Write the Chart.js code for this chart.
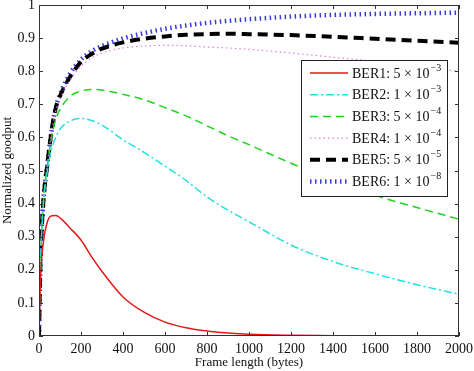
<!DOCTYPE html>
<html>
<head>
<meta charset="utf-8">
<script src="https://cdn.jsdelivr.net/npm/chart.js@4/dist/chart.umd.min.js"></script>
<style>
  html, body { margin: 0; padding: 0; background: #fff; }
  #wrap { width: 474px; height: 371px; }
</style>
</head>
<body>
<div id="wrap"><canvas id="goodputChart"></canvas></div>
<script>
// frame length (bytes), x positions of the read points
const frameLength = [0, 5, 10, 20, 40, 60, 80, 100, 150, 200, 250, 300, 400, 500, 600, 700, 800, 900, 1000, 1200, 1400, 1600, 1800, 2000];

// normalized goodput
const ber1 = [0, 0.13, 0.21, 0.28, 0.345, 0.363, 0.364, 0.357, 0.325, 0.29, 0.24, 0.195, 0.118, 0.072, 0.042, 0.025, 0.015, 0.009, 0.005, 0.002, 0.001, 0, 0, 0];
const ber2 = [0, 0.16, 0.27, 0.39, 0.50, 0.565, 0.60, 0.625, 0.65, 0.657, 0.651, 0.637, 0.593, 0.555, 0.513, 0.47, 0.42, 0.38, 0.345, 0.275, 0.225, 0.188, 0.155, 0.126];
const ber3 = [0, 0.17, 0.28, 0.40, 0.515, 0.60, 0.655, 0.685, 0.725, 0.74, 0.745, 0.743, 0.73, 0.714, 0.69, 0.665, 0.635, 0.605, 0.578, 0.522, 0.47, 0.425, 0.388, 0.353];
const ber4 = [0, 0.17, 0.28, 0.40, 0.52, 0.615, 0.68, 0.715, 0.775, 0.815, 0.84, 0.855, 0.87, 0.876, 0.878, 0.877, 0.873, 0.87, 0.866, 0.855, 0.842, 0.83, 0.815, 0.80];
const ber5 = [0, 0.17, 0.28, 0.40, 0.52, 0.62, 0.69, 0.725, 0.785, 0.828, 0.852, 0.868, 0.887, 0.898, 0.905, 0.91, 0.912, 0.913, 0.912, 0.909, 0.904, 0.898, 0.892, 0.886];
const ber6 = [0, 0.17, 0.28, 0.40, 0.52, 0.62, 0.69, 0.73, 0.795, 0.835, 0.86, 0.876, 0.899, 0.915, 0.928, 0.938, 0.946, 0.952, 0.957, 0.965, 0.97, 0.973, 0.975, 0.977];

// legend texts: base and exponent
const seriesNames = ['BER1: 5 × 10', 'BER2: 1 × 10', 'BER3: 5 × 10', 'BER4: 1 × 10', 'BER5: 5 × 10', 'BER6: 1 × 10'];
const seriesExps = ['−3', '−3', '−4', '−4', '−5', '−8'];

const xTicks = [0, 200, 400, 600, 800, 1000, 1200, 1400, 1600, 1800, 2000];
const yTicks = [0, 0.1, 0.2, 0.3, 0.4, 0.5, 0.6, 0.7, 0.8, 0.9, 1];

const serif = '"Liberation Serif", "Times New Roman", serif';

function pts(ys) {
    return frameLength.map((x, i) => ({ x: x, y: ys[i] }));
}

const styles = [
    { color: '#e41a1a', width: 1.5, dash: [] },
    { color: '#22e0e0', width: 1.5, dash: [8, 3, 2, 3] },
    { color: '#1fd21f', width: 1.5, dash: [8, 5] },
    { color: '#e27ee2', width: 1.2, dash: [1.5, 3] },
    { color: '#000000', width: 4, dash: [10, 6] },
    { color: '#3b3bd6', width: 4.5, dash: [1.5, 3.5] }
];
const allSeries = [ber1, ber2, ber3, ber4, ber5, ber6];

// draw the MATLAB style box, inward ticks and legend
const boxPlugin = {
    id: 'boxPlugin',
    afterDraw(chart) {
        const ctx = chart.ctx;
        const a = chart.chartArea;
        const xs = chart.scales.x, ys = chart.scales.y;
        ctx.save();
        ctx.strokeStyle = '#333';
        ctx.lineWidth = 1;
        ctx.setLineDash([]);
        ctx.strokeRect(a.left + 0.5, a.top + 0.5, a.right - a.left - 1, a.bottom - a.top - 1);
        ctx.beginPath();
        xTicks.forEach(v => {
            const px = Math.round(xs.getPixelForValue(v)) + 0.5;
            ctx.moveTo(px, a.bottom); ctx.lineTo(px, a.bottom - 4);
            ctx.moveTo(px, a.top); ctx.lineTo(px, a.top + 4);
        });
        yTicks.forEach(v => {
            const py = Math.round(ys.getPixelForValue(v)) + 0.5;
            ctx.moveTo(a.left, py); ctx.lineTo(a.left + 4, py);
            ctx.moveTo(a.right, py); ctx.lineTo(a.right - 4, py);
        });
        ctx.stroke();

        // legend
        const lx = 301, ly = 60, lw = 146, lh = 136;
        ctx.fillStyle = '#fff';
        ctx.fillRect(lx, ly, lw, lh);
        ctx.strokeStyle = '#222';
        ctx.strokeRect(lx + 0.5, ly + 0.5, lw, lh);
        seriesNames.forEach((name, i) => {
            const st = styles[i];
            const cy = 73 + i * 21.7;
            ctx.beginPath();
            ctx.strokeStyle = st.color;
            ctx.lineWidth = st.width;
            ctx.setLineDash(st.dash);
            ctx.moveTo(310, cy); ctx.lineTo(348, cy);
            ctx.stroke();
            ctx.setLineDash([]);
            ctx.fillStyle = '#111';
            ctx.font = '14px ' + serif;
            ctx.textBaseline = 'middle';
            ctx.textAlign = 'left';
            ctx.fillText(name, 352, cy + 1);
            const w = ctx.measureText(name).width;
            ctx.font = '10px ' + serif;
            ctx.fillText(seriesExps[i], 352 + w + 1, cy - 5);
        });
        ctx.restore();
    }
};

new Chart(document.getElementById('goodputChart'), {
    type: 'line',
    data: {
        datasets: allSeries.map((ys, i) => ({
            label: seriesNames[i] + seriesExps[i],
            data: pts(ys),
            borderColor: styles[i].color,
            borderWidth: styles[i].width,
            borderDash: styles[i].dash,
            pointRadius: 0,
            fill: false,
            cubicInterpolationMode: 'monotone'
        }))
    },
    options: {
        responsive: true,
        maintainAspectRatio: false,
        animation: false,
        layout: { padding: { top: 5, right: 15, left: 0, bottom: 0 } },
        plugins: {
            legend: { display: false },
            tooltip: { enabled: false }
        },
        scales: {
            x: {
                type: 'linear',
                min: 0,
                max: 2000,
                afterBuildTicks: s => { s.ticks = xTicks.map(v => ({ value: v })); },
                afterFit: s => { s.height = 35; s.paddingLeft = 0; s.paddingRight = 0; },
                grid: { display: false, drawTicks: false },
                border: { display: false },
                ticks: {
                    padding: 5,
                    color: '#111',
                    font: { family: serif, size: 14 },
                    maxRotation: 0,
                    autoSkip: false,
                    callback: v => String(v)
                },
                title: {
                    display: true,
                    text: 'Frame length (bytes)',
                    color: '#111',
                    font: { family: serif, size: 13 },
                    padding: { top: 0, bottom: 1 }
                }
            },
            y: {
                min: 0,
                max: 1,
                afterBuildTicks: s => { s.ticks = yTicks.map(v => ({ value: v })); },
                afterFit: s => { s.width = 39; s.paddingTop = 0; s.paddingBottom = 0; },
                grid: { display: false, drawTicks: false },
                border: { display: false },
                ticks: {
                    padding: 4,
                    color: '#111',
                    font: { family: serif, size: 14 },
                    autoSkip: false,
                    callback: v => String(Math.round(v * 10) / 10)
                },
                title: {
                    display: true,
                    text: 'Normalized goodput',
                    color: '#111',
                    font: { family: serif, size: 13 },
                    padding: { top: 0, bottom: 0 }
                }
            }
        }
    },
    plugins: [boxPlugin]
});
</script>
</body>
</html>
